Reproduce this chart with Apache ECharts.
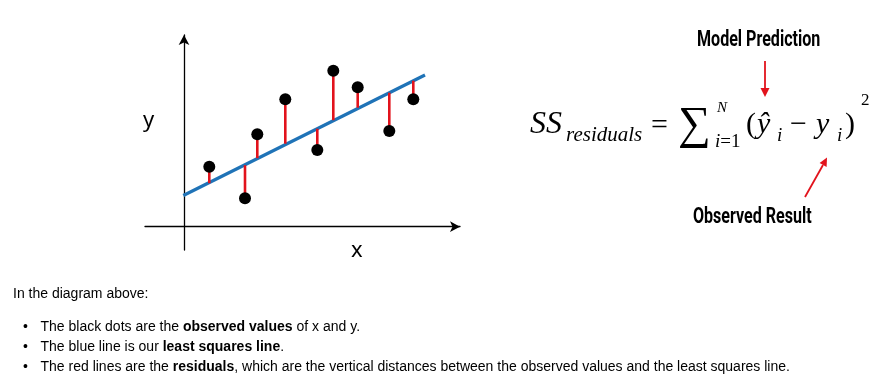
<!DOCTYPE html>
<html>
<head>
<meta charset="utf-8">
<script src="https://cdn.jsdelivr.net/npm/echarts@6/dist/echarts.min.js"></script>
<style>
  html, body { margin: 0; padding: 0; background: #fff; }
  #chart { width: 879px; height: 378px; }
</style>
</head>
<body>
<div id="chart"></div>
<script>
// observed points (x, y) and where each one meets the least squares line
const obsX = [2.53, 6.1, 7.33, 10.13, 13.33, 14.93, 17.37, 20.53, 22.93];
const obsY = [6.0, 2.84, 9.24, 12.74, 7.67, 15.6, 13.94, 9.57, 12.74];
const fitY = [4.35, 6.15, 6.85, 8.3, 9.8, 10.65, 11.9, 13.4, 14.6];
// least squares line end points
const lineX = [-0.07, 24.1];
const lineY = [3.12, 15.17];
// axis extents
const xRange = [-3.9, 27.6];
const yRange = [-2.33, 19.17];

const blue = "#1f73b7";
const red = "#e2131c";
const serif = "'Liberation Serif', 'DejaVu Serif', serif";
const sans = "'Liberation Sans', Arial, sans-serif";

const chart = echarts.init(document.getElementById("chart"));

function axisCfg(range) {
  return {
    type: "value",
    min: range[0],
    max: range[1],
    splitLine: { show: false },
    axisTick: { show: false },
    axisLabel: { show: false },
    axisLine: {
      show: true,
      onZero: true,
      symbol: ["none", "arrow"],
      symbolSize: [8, 10],
      lineStyle: { color: "#000", width: 1.3 },
    },
  };
}

function txt(x, y, text, font, extra) {
  return Object.assign(
    {
      type: "text",
      x: x,
      y: y,
      style: {
        text: text,
        font: font,
        fill: "#000",
        verticalAlign: "middle",
      },
    },
    extra || {}
  );
}

const bottomRich = {
  b: { fontFamily: sans, fontSize: 14, fontWeight: "bold", fill: "#000" },
};

chart.setOption({
  backgroundColor: "#fff",
  animation: false,
  grid: { left: 145, right: 879 - 460, top: 35, bottom: 378 - 250 },
  xAxis: axisCfg(xRange),
  yAxis: axisCfg(yRange),
  series: [
    {
      type: "line",
      data: lineX.map((x, i) => [x, lineY[i]]),
      symbol: "none",
      lineStyle: { color: blue, width: 3.2 },
      z: 2,
    },
    {
      type: "custom",
      data: obsX.map((x, i) => [x, obsY[i], fitY[i]]),
      renderItem: function (params, api) {
        const p1 = api.coord([api.value(0), api.value(1)]);
        const p2 = api.coord([api.value(0), api.value(2)]);
        return {
          type: "line",
          shape: { x1: p1[0], y1: p1[1], x2: p2[0], y2: p2[1] },
          style: { stroke: red, lineWidth: 2.6 },
        };
      },
      z: 3,
    },
    {
      type: "scatter",
      data: obsX.map((x, i) => [x, obsY[i]]),
      symbolSize: 12,
      itemStyle: { color: "#000", opacity: 1 },
      z: 4,
    },
  ],
  graphic: [
    // axis names
    txt(143, 121, "y", "22px 'Noto Sans', sans-serif"),
    txt(351, 251, "x", "22px 'Noto Sans', sans-serif"),

    // formula
    txt(530, 124.5, "SS", "italic 32px " + serif),
    txt(566, 135.5, "residuals", "italic 21px " + serif),
    txt(651, 126, "=", "30px " + serif),
    txt(678, 126, "\u2211", "46px " + serif),
    txt(717, 108, "N", "italic 15px " + serif),
    {
      type: "text",
      x: 715,
      y: 142,
      style: {
        text: "{i|i}=1",
        font: "19px " + serif,
        fill: "#000",
        verticalAlign: "middle",
        rich: { i: { fontFamily: serif, fontStyle: "italic", fontSize: 19 } },
      },
    },
    txt(746, 125, "(", "30px " + serif),
    txt(757, 125, "\u0177", "italic 30px " + serif),
    txt(777, 136, "i", "italic 19px " + serif),
    txt(790, 125, "\u2212", "30px " + serif),
    txt(816, 125, "y", "italic 30px " + serif),
    txt(837, 136, "i", "italic 19px " + serif),
    txt(845, 125, ")", "30px " + serif),
    txt(861, 101, "2", "17px " + serif),

    // labels and arrows
    txt(697, 40.5, "Model Prediction", "bold 22px Roboto, sans-serif", { scaleX: 0.73 }),
    txt(693, 217, "Observed Result", "bold 22px Roboto, sans-serif", { scaleX: 0.73 }),
    {
      type: "line",
      shape: { x1: 765, y1: 61, x2: 765, y2: 90 },
      style: { stroke: red, lineWidth: 1.8 },
    },
    {
      type: "polygon",
      shape: { points: [[760.5, 88], [769.5, 88], [765, 97]] },
      style: { fill: red },
    },
    {
      type: "line",
      shape: { x1: 805, y1: 197, x2: 823, y2: 165 },
      style: { stroke: red, lineWidth: 1.8 },
    },
    {
      type: "polygon",
      shape: { points: [[826.6, 167], [819.6, 163], [827, 157.5]] },
      style: { fill: red },
    },

    // description
    txt(13, 294, "In the diagram above:", "14px " + sans),
    txt(23, 327, "\u2022", "14px " + sans),
    txt(23, 347, "\u2022", "14px " + sans),
    txt(23, 367, "\u2022", "14px " + sans),
    {
      type: "text",
      x: 40.5,
      y: 327,
      style: {
        text: "The black dots are the {b|observed values} of x and y.",
        font: "14px " + sans,
        fill: "#000",
        verticalAlign: "middle",
        rich: bottomRich,
      },
    },
    {
      type: "text",
      x: 40.5,
      y: 347,
      style: {
        text: "The blue line is our {b|least squares line}.",
        font: "14px " + sans,
        fill: "#000",
        verticalAlign: "middle",
        rich: bottomRich,
      },
    },
    {
      type: "text",
      x: 40.5,
      y: 367,
      style: {
        text:
          "The red lines are the {b|residuals}, which are the vertical distances between the observed values and the least squares line.",
        font: "14px " + sans,
        fill: "#000",
        verticalAlign: "middle",
        rich: bottomRich,
      },
    },
  ],
});
</script>
</body>
</html>
